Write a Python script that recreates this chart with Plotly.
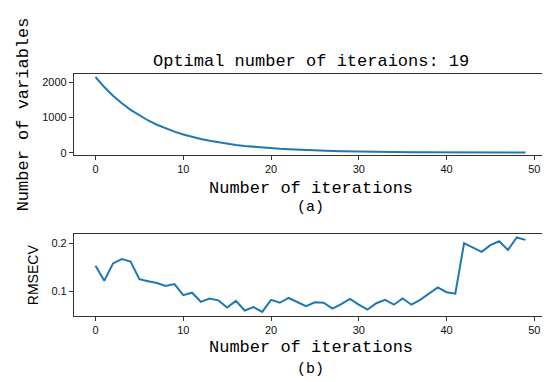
import plotly.graph_objects as go

iterations = list(range(50))
num_variables = [2150, 1864, 1617, 1402, 1216, 1054, 914, 793, 688, 596,
                 517, 448, 389, 337, 292, 254, 220, 191, 165, 143,
                 124, 108, 94, 81, 70, 61, 53, 46, 40, 34,
                 30, 26, 22, 19, 17, 15, 13, 11, 9, 8,
                 7, 6, 5, 5, 4, 3, 3, 3, 2, 2]
rmsecv = [0.153, 0.122, 0.158, 0.167, 0.162, 0.125, 0.121, 0.117, 0.111, 0.115,
          0.092, 0.097, 0.078, 0.085, 0.081, 0.066, 0.080, 0.060, 0.067, 0.057,
          0.082, 0.076, 0.086, 0.077, 0.069, 0.077, 0.076, 0.064, 0.073, 0.084,
          0.072, 0.062, 0.075, 0.082, 0.072, 0.085, 0.072, 0.082, 0.095, 0.108,
          0.098, 0.095, 0.200, 0.191, 0.182, 0.196, 0.204, 0.186, 0.212, 0.207]
x_ticks = [0, 10, 20, 30, 40, 50]
top_y_ticks = [0, 1000, 2000]
bottom_y_ticks = [0.1, 0.2]
bottom_y_labels = ["0.1", "0.2"]

W, H = 550, 382
LINE = "#1f77b4"
MONO = "Liberation Mono"
SANS = "Liberation Sans"

fig = go.Figure()
fig.add_trace(go.Scatter(x=iterations, y=num_variables, mode="lines",
                         line=dict(color=LINE, width=2), xaxis="x", yaxis="y",
                         showlegend=False))
fig.add_trace(go.Scatter(x=iterations, y=rmsecv, mode="lines",
                         line=dict(color=LINE, width=2), xaxis="x2", yaxis="y2",
                         showlegend=False))

def px_y(p):
    return 1 - p / H

xdom = [66 / W, 539 / W]
axis_common = dict(showline=True, linecolor="#333", linewidth=1.2, mirror=True,
                   ticks="outside", ticklen=4, tickcolor="#333", showgrid=False,
                   zeroline=False, tickfont=dict(family=SANS, size=11, color="#111"))

fig.update_layout(
    width=W, height=H, margin=dict(l=0, r=0, t=0, b=0),
    paper_bgcolor="white", plot_bgcolor="white",
    xaxis=dict(domain=xdom, anchor="y", range=[-2.45, 51.45], tickvals=x_ticks, **axis_common),
    yaxis=dict(domain=[px_y(148.5), px_y(66.7)], anchor="x", range=[-65, 2235],
               tickvals=top_y_ticks, **axis_common),
    xaxis2=dict(domain=xdom, anchor="y2", range=[-2.45, 51.45], tickvals=x_ticks, **axis_common),
    yaxis2=dict(domain=[px_y(311), px_y(228)], anchor="x2", range=[0.049, 0.220],
                tickvals=bottom_y_ticks, ticktext=bottom_y_labels, **axis_common),
)

cx = (66 + 539) / 2 / W
ann = [
    dict(text="Optimal number of iteraions: 19", x=cx, y=px_y(54), font=dict(family=MONO, size=17)),
    dict(text="Number of variables", x=15 / W, y=px_y(107.5), textangle=-90, font=dict(family=MONO, size=17)),
    dict(text="Number of iterations", x=cx, y=px_y(182), font=dict(family=MONO, size=17)),
    dict(text="(a)", x=cx, y=px_y(202), font=dict(family=MONO, size=15)),
    dict(text="RMSECV", x=25 / W, y=px_y(270), textangle=-90, font=dict(family=SANS, size=14)),
    dict(text="Number of iterations", x=cx, y=px_y(343), font=dict(family=MONO, size=17)),
    dict(text="(b)", x=cx, y=px_y(365), font=dict(family=MONO, size=15)),
]
for a in ann:
    fig.add_annotation(xref="paper", yref="paper", showarrow=False,
                       xanchor="center", yanchor="middle",
                       font_color="#000", **{k: v for k, v in a.items()})

fig.write_html("out.html")
